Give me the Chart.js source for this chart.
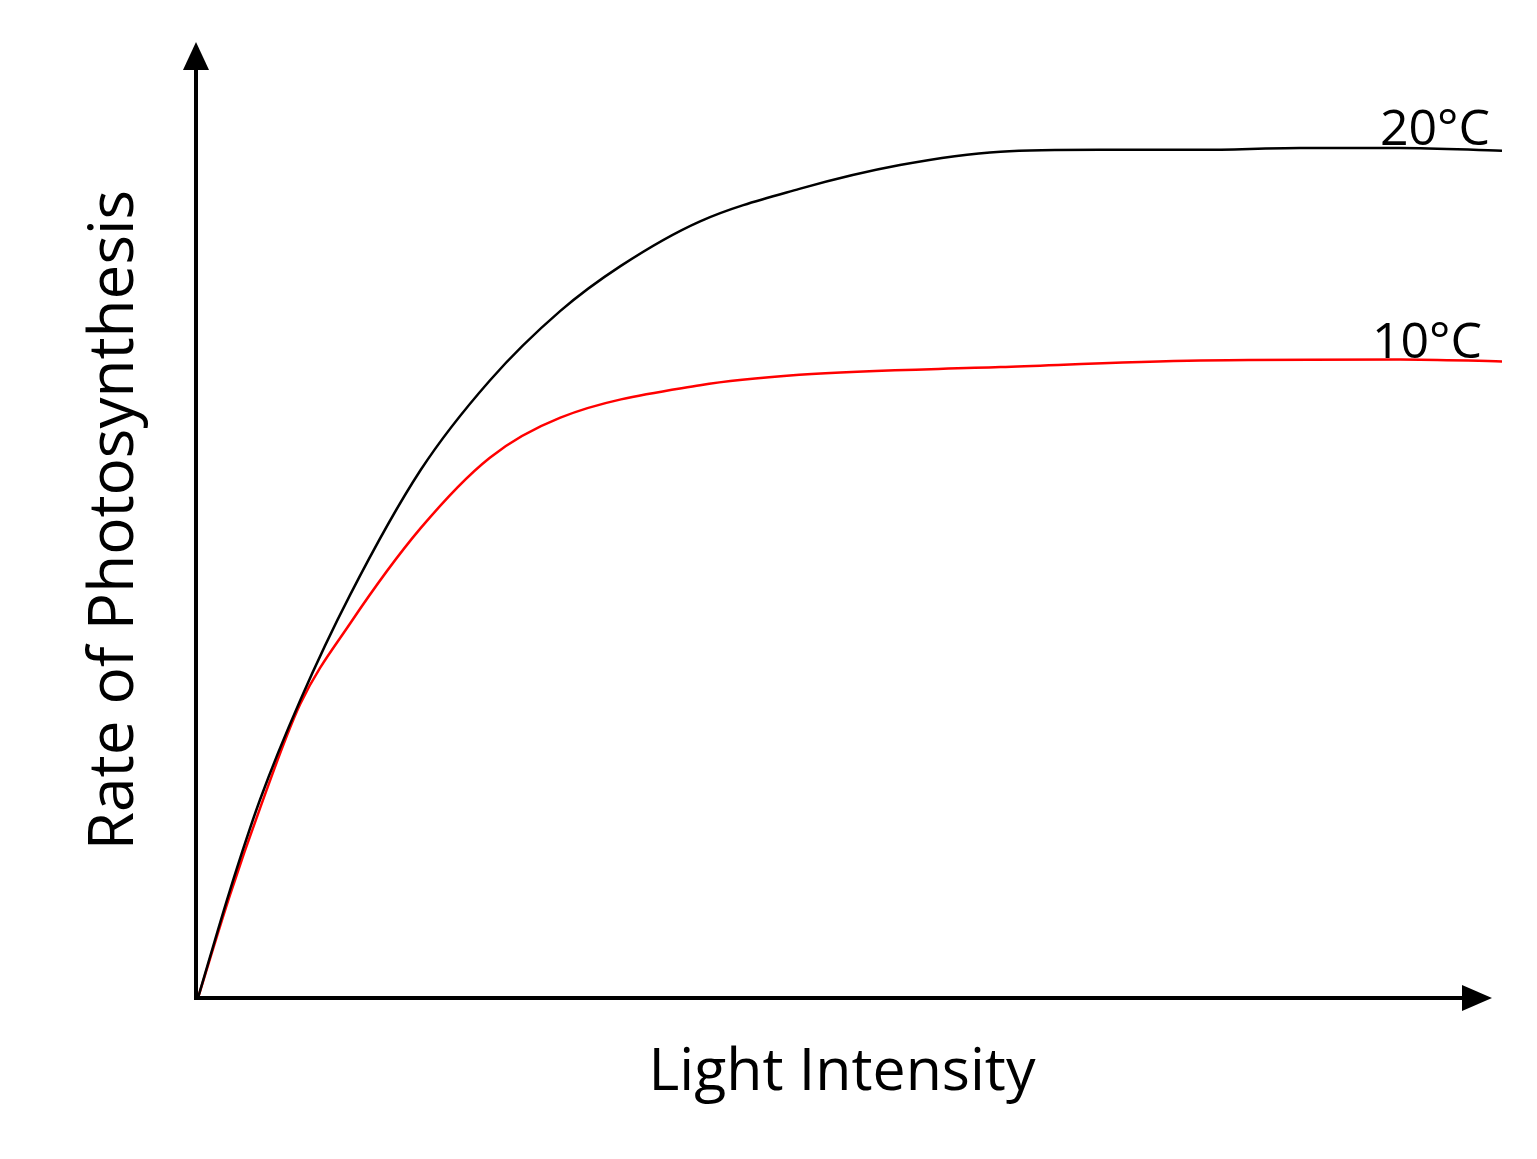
<!DOCTYPE html>
<html><head><meta charset="utf-8">
<script src="https://cdn.jsdelivr.net/npm/chart.js@4"></script>
<style>html,body{margin:0;padding:0;background:#fff}#c{display:block}</style>
</head><body>
<canvas id="c" width="1537" height="1159"></canvas>
<script>
const xTitle = "Light Intensity";
const yTitle = "Rate of Photosynthesis";
const series20Label = "20°C";
const series10Label = "10°C";
const x20 = [0.15,2.6,4.9,8.0,11.8,17.2,22.5,27.9,32.5,38.6,46.2,53.9,61.6,69.2,76.9,84.5,92.2,100];
const y20 = [0,11.3,20.8,31.3,42.3,55.4,64.8,72.1,76.8,81.5,84.9,87.4,88.8,89.0,89.0,89.2,89.2,88.9];
const x10 = [0.15,2.6,4.9,8.0,11.8,17.2,22.5,27.9,38.6,46.2,61.6,76.9,92.2,100];
const y10 = [0,10.8,19.9,30.9,39.3,49.3,56.7,60.9,64.3,65.4,66.2,66.9,67.0,66.8];
const FONT = "'Open Sans', Lato, sans-serif";
const pts = (xs, ys) => xs.map((x, i) => ({x, y: ys[i]}));
const deco = {
  id: 'deco',
  afterDraw(chart) {
    const ctx = chart.ctx, a = chart.chartArea;
    const ox = a.left, oy = a.bottom;
    ctx.save();
    ctx.strokeStyle = '#000'; ctx.fillStyle = '#000'; ctx.lineWidth = 4;
    ctx.beginPath(); ctx.moveTo(ox, oy); ctx.lineTo(ox, 65); ctx.stroke();
    ctx.beginPath(); ctx.moveTo(ox, 42); ctx.lineTo(ox - 13, 70); ctx.lineTo(ox + 13, 70); ctx.closePath(); ctx.fill();
    ctx.beginPath(); ctx.moveTo(ox - 2, oy); ctx.lineTo(1465, oy); ctx.stroke();
    ctx.beginPath(); ctx.moveTo(1492, oy); ctx.lineTo(1462, oy - 13); ctx.lineTo(1462, oy + 13); ctx.closePath(); ctx.fill();
    ctx.font = '59px ' + FONT; ctx.textAlign = 'center'; ctx.textBaseline = 'middle';
    ctx.fillText(xTitle, 842, 1073);
    ctx.font = '62px ' + FONT;
    ctx.translate(115, 520); ctx.rotate(-Math.PI / 2); ctx.fillText(yTitle, 0, 0);
    ctx.restore();
    ctx.save();
    ctx.font = '50px ' + FONT; ctx.textAlign = 'right'; ctx.textBaseline = 'alphabetic'; ctx.fillStyle = '#000';
    ctx.fillText(series20Label, 1490, 145);
    ctx.fillText(series10Label, 1482, 358);
    ctx.restore();
  }
};
new Chart(document.getElementById('c'), {
  type: 'line',
  data: { datasets: [
    { label: series20Label, data: pts(x20, y20), borderColor: '#000', borderWidth: 2.5, pointRadius: 0, cubicInterpolationMode: 'monotone' },
    { label: series10Label, data: pts(x10, y10), borderColor: '#ff0000', borderWidth: 2.5, pointRadius: 0, cubicInterpolationMode: 'monotone' }
  ]},
  options: {
    responsive: false, animation: false,
    layout: { padding: { left: 196, right: 35, top: 45, bottom: 161 } },
    plugins: { legend: { display: false }, tooltip: { enabled: false } },
    scales: {
      x: { type: 'linear', min: 0, max: 100, display: false },
      y: { min: 0, max: 100, display: false }
    }
  },
  plugins: [deco]
});
</script>
</body></html>
